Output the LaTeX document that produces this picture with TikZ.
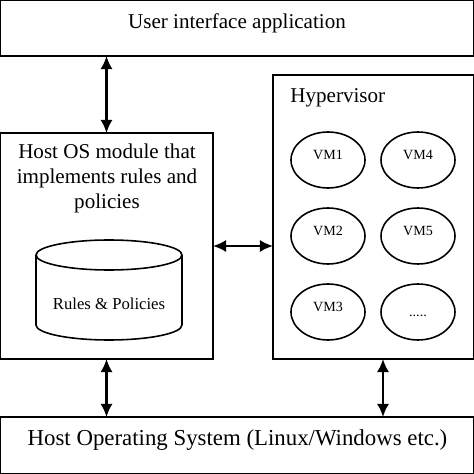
\documentclass[tikz,border=0pt]{standalone}
\usepackage{fontspec}
\setmainfont{Liberation Serif}
\usetikzlibrary{arrows.meta}
\usetikzlibrary{shapes.geometric}
\usetikzlibrary{positioning}

\begin{document}
\begin{tikzpicture}[x=0.02cm,y=0.02cm]
      \tikzstyle{layer}=[draw,line width=0.9pt,inner sep=0pt,outer sep=0pt]
      \tikzstyle{vm}=[draw,ellipse,line width=0.9pt,minimum width=1.48cm,minimum height=1.12cm,inner sep=0pt,
                      font=\fontsize{8}{9}\selectfont,text height=4pt,text depth=4pt]
      \tikzstyle{link}=[line width=1.3pt,{Latex[length=7.5pt,width=7pt]}-{Latex[length=7.5pt,width=7pt]}]
      \useasboundingbox (0,0) rectangle (474,474);

      % layers
      \node[layer,minimum width=9.48cm,minimum height=1.12cm] (ui)      at (237,446)   {};
      \node[layer,minimum width=4.26cm,minimum height=4.52cm] (hostmod) at (106.5,228) {};
      \node[layer,minimum width=4.02cm,minimum height=5.68cm] (hyper)   at (373.5,257) {};
      \node[layer,minimum width=9.48cm,minimum height=1.14cm] (hostos)  at (237,28.5)  {};

      \node[font=\fontsize{12}{14}\selectfont] (uitext) at (237,451) {User interface application};
      \node[font=\fontsize{12}{14.2}\selectfont,align=center] (modtext) at (107,296)
            {Host OS module that\\implements rules and\\policies};
      \node[font=\fontsize{12}{14}\selectfont,anchor=west,inner sep=0pt] (hypertext) at (290,376) {Hypervisor};
      \node[font=\fontsize{13}{15}\selectfont] (ostext) at (237.5,34) {Host Operating System (Linux/Windows etc.)};

      % database
      \draw[line width=0.9pt] (36,219) -- (36,149) arc (180:360:1.46cm and 0.3cm) -- (182,219);
      \draw[line width=0.9pt] (109,219) ellipse (1.46cm and 0.3cm);
      \node[font=\fontsize{9.5}{11}\selectfont] (rules) at (109,170) {Rules \& Policies};

      % virtual machines
      \node[vm] (vm1) at (328,314) {VM1};
      \node[vm] (vm4) at (418,314) {VM4};
      \node[vm] (vm2) at (328,238) {VM2};
      \node[vm] (vm5) at (418,238) {VM5};
      \node[vm] (vm3) at (328,162) {VM3};
      \node[vm,text height=6pt,text depth=0.4pt] (vm6) at (418,162) {.....};

      \draw[link] (hostmod.north) -- (hostmod.north |- ui.south);
      \draw[link] (hostmod.east) -- (hostmod.east -| hyper.west);
      \draw[link] (hostmod.south) -- (hostmod.south |- hostos.north);
      \draw[link] ([xshift=0.19cm]hyper.south) -- ([xshift=0.19cm]hyper.south |- hostos.north);
\end{tikzpicture}
\end{document}
